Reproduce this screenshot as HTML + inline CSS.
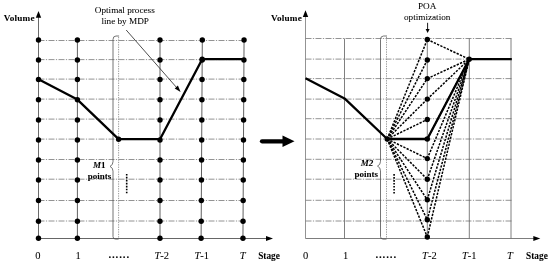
<!DOCTYPE html><html><head><meta charset="utf-8"><style>html,body{margin:0;padding:0;background:#fff}svg{display:block}text{font-family:"Liberation Serif",serif;fill:#000;stroke:#000;stroke-width:0.05px}</style></head><body>
<svg width="550" height="265" viewBox="0 0 550 265">
<rect width="550" height="265" fill="#fff"/>
<line x1="38.5" y1="40.5" x2="243.5" y2="40.5" stroke="#777" stroke-width="0.8" stroke-dasharray="6 1.4 1.2 1.4"/>
<line x1="38.5" y1="59.6" x2="243.5" y2="59.6" stroke="#777" stroke-width="0.8" stroke-dasharray="6 1.4 1.2 1.4"/>
<line x1="38.5" y1="79.1" x2="243.5" y2="79.1" stroke="#777" stroke-width="0.8" stroke-dasharray="6 1.4 1.2 1.4"/>
<line x1="38.5" y1="99.1" x2="243.5" y2="99.1" stroke="#777" stroke-width="0.8" stroke-dasharray="6 1.4 1.2 1.4"/>
<line x1="38.5" y1="119.1" x2="243.5" y2="119.1" stroke="#777" stroke-width="0.8" stroke-dasharray="6 1.4 1.2 1.4"/>
<line x1="38.5" y1="139.1" x2="243.5" y2="139.1" stroke="#777" stroke-width="0.8" stroke-dasharray="6 1.4 1.2 1.4"/>
<line x1="38.5" y1="159.5" x2="243.5" y2="159.5" stroke="#777" stroke-width="0.8" stroke-dasharray="6 1.4 1.2 1.4"/>
<line x1="38.5" y1="179.2" x2="243.5" y2="179.2" stroke="#777" stroke-width="0.8" stroke-dasharray="6 1.4 1.2 1.4"/>
<line x1="38.5" y1="200.5" x2="243.5" y2="200.5" stroke="#777" stroke-width="0.8" stroke-dasharray="6 1.4 1.2 1.4"/>
<line x1="38.5" y1="221" x2="243.5" y2="221" stroke="#777" stroke-width="0.8" stroke-dasharray="6 1.4 1.2 1.4"/>
<line x1="77.4" y1="40.5" x2="77.4" y2="238.5" stroke="#606060" stroke-width="1"/>
<line x1="160" y1="40.5" x2="160" y2="238.5" stroke="#606060" stroke-width="1"/>
<line x1="202.29999999999998" y1="40.5" x2="201.1" y2="238.5" stroke="#606060" stroke-width="1"/>
<line x1="244.05" y1="40.5" x2="242.95" y2="238.5" stroke="#606060" stroke-width="1"/>
<line x1="38.5" y1="16" x2="38.5" y2="238.5" stroke="#6a6a6a" stroke-width="1"/>
<polygon points="38.5,10.9 35.8,17.8 41.2,17.8" fill="#000"/>
<line x1="38.5" y1="238.5" x2="268" y2="238.5" stroke="#666" stroke-width="1"/>
<polygon points="273,238.5 266,236.0 266,241.0" fill="#000"/>
<path d="M119.1,36 H116 Q113,36 113,39.5 V161.70000000000002 q0,3.4 -3,4.7 q3,1.3 3,4.7 V236.5 Q113,239.1 115.5,239.1 H118.6" fill="none" stroke="#505050" stroke-width="0.8"/>
<line x1="118.6" y1="37" x2="118.6" y2="238.5" stroke="#808080" stroke-width="0.8" stroke-dasharray="1.3 1.1"/>
<circle cx="38.50" cy="40" r="2.7" fill="#000"/>
<circle cx="38.50" cy="60" r="2.7" fill="#000"/>
<circle cx="38.50" cy="79.5" r="2.7" fill="#000"/>
<circle cx="38.50" cy="99.7" r="2.7" fill="#000"/>
<circle cx="38.50" cy="120" r="2.7" fill="#000"/>
<circle cx="38.50" cy="140" r="2.7" fill="#000"/>
<circle cx="38.50" cy="160" r="2.7" fill="#000"/>
<circle cx="38.50" cy="180" r="2.7" fill="#000"/>
<circle cx="38.50" cy="200.5" r="2.7" fill="#000"/>
<circle cx="38.50" cy="221.3" r="2.7" fill="#000"/>
<circle cx="38.50" cy="238.3" r="2.7" fill="#000"/>
<circle cx="77.40" cy="40" r="2.7" fill="#000"/>
<circle cx="77.40" cy="60" r="2.7" fill="#000"/>
<circle cx="77.40" cy="79.5" r="2.7" fill="#000"/>
<circle cx="77.40" cy="99.7" r="2.7" fill="#000"/>
<circle cx="77.40" cy="120" r="2.7" fill="#000"/>
<circle cx="77.40" cy="140" r="2.7" fill="#000"/>
<circle cx="77.40" cy="160" r="2.7" fill="#000"/>
<circle cx="77.40" cy="180" r="2.7" fill="#000"/>
<circle cx="77.40" cy="200.5" r="2.7" fill="#000"/>
<circle cx="77.40" cy="221.3" r="2.7" fill="#000"/>
<circle cx="77.40" cy="238.3" r="2.7" fill="#000"/>
<circle cx="160.00" cy="40" r="2.7" fill="#000"/>
<circle cx="160.00" cy="60" r="2.7" fill="#000"/>
<circle cx="160.00" cy="79.5" r="2.7" fill="#000"/>
<circle cx="160.00" cy="99.7" r="2.7" fill="#000"/>
<circle cx="160.00" cy="120" r="2.7" fill="#000"/>
<circle cx="160.00" cy="140" r="2.7" fill="#000"/>
<circle cx="160.00" cy="160" r="2.7" fill="#000"/>
<circle cx="160.00" cy="180" r="2.7" fill="#000"/>
<circle cx="160.00" cy="200.5" r="2.7" fill="#000"/>
<circle cx="160.00" cy="221.3" r="2.7" fill="#000"/>
<circle cx="160.00" cy="238.3" r="2.7" fill="#000"/>
<circle cx="202.30" cy="40" r="2.7" fill="#000"/>
<circle cx="202.18" cy="60" r="2.7" fill="#000"/>
<circle cx="202.06" cy="79.5" r="2.7" fill="#000"/>
<circle cx="201.94" cy="99.7" r="2.7" fill="#000"/>
<circle cx="201.82" cy="120" r="2.7" fill="#000"/>
<circle cx="201.70" cy="140" r="2.7" fill="#000"/>
<circle cx="201.57" cy="160" r="2.7" fill="#000"/>
<circle cx="201.45" cy="180" r="2.7" fill="#000"/>
<circle cx="201.33" cy="200.5" r="2.7" fill="#000"/>
<circle cx="201.20" cy="221.3" r="2.7" fill="#000"/>
<circle cx="201.10" cy="238.3" r="2.7" fill="#000"/>
<circle cx="244.05" cy="40" r="2.7" fill="#000"/>
<circle cx="243.94" cy="60" r="2.7" fill="#000"/>
<circle cx="243.83" cy="79.5" r="2.7" fill="#000"/>
<circle cx="243.72" cy="99.7" r="2.7" fill="#000"/>
<circle cx="243.61" cy="120" r="2.7" fill="#000"/>
<circle cx="243.50" cy="140" r="2.7" fill="#000"/>
<circle cx="243.39" cy="160" r="2.7" fill="#000"/>
<circle cx="243.27" cy="180" r="2.7" fill="#000"/>
<circle cx="243.16" cy="200.5" r="2.7" fill="#000"/>
<circle cx="243.05" cy="221.3" r="2.7" fill="#000"/>
<circle cx="242.95" cy="238.3" r="2.7" fill="#000"/>
<polyline points="38.5,79.3 77.4,99.6 118.6,139.2 160,139.2 202.2,59.2 244,59.2" fill="none" stroke="#000" stroke-width="2.3" stroke-linejoin="round"/>
<circle cx="118.6" cy="139.2" r="2.7"/><circle cx="202.2" cy="59.2" r="2.7"/>
<line x1="305.5" y1="38.5" x2="511.5" y2="38.5" stroke="#777" stroke-width="0.8" stroke-dasharray="6 1.4 1.2 1.4"/>
<line x1="305.5" y1="59.1" x2="511.5" y2="59.1" stroke="#777" stroke-width="0.8" stroke-dasharray="6 1.4 1.2 1.4"/>
<line x1="305.5" y1="78.6" x2="511.5" y2="78.6" stroke="#777" stroke-width="0.8" stroke-dasharray="6 1.4 1.2 1.4"/>
<line x1="305.5" y1="99.1" x2="511.5" y2="99.1" stroke="#777" stroke-width="0.8" stroke-dasharray="6 1.4 1.2 1.4"/>
<line x1="305.5" y1="118.7" x2="511.5" y2="118.7" stroke="#777" stroke-width="0.8" stroke-dasharray="6 1.4 1.2 1.4"/>
<line x1="305.5" y1="139" x2="511.5" y2="139" stroke="#777" stroke-width="0.8" stroke-dasharray="6 1.4 1.2 1.4"/>
<line x1="305.5" y1="159.3" x2="511.5" y2="159.3" stroke="#777" stroke-width="0.8" stroke-dasharray="6 1.4 1.2 1.4"/>
<line x1="305.5" y1="179.2" x2="511.5" y2="179.2" stroke="#777" stroke-width="0.8" stroke-dasharray="6 1.4 1.2 1.4"/>
<line x1="305.5" y1="200.3" x2="511.5" y2="200.3" stroke="#777" stroke-width="0.8" stroke-dasharray="6 1.4 1.2 1.4"/>
<line x1="305.5" y1="221" x2="511.5" y2="221" stroke="#777" stroke-width="0.8" stroke-dasharray="6 1.4 1.2 1.4"/>
<line x1="344.5" y1="38.5" x2="344.5" y2="238.5" stroke="#606060" stroke-width="0.8"/>
<line x1="427.3" y1="38.5" x2="427.3" y2="238.5" stroke="#606060" stroke-width="0.8"/>
<line x1="469.3" y1="38.5" x2="469.3" y2="238.5" stroke="#606060" stroke-width="0.8"/>
<line x1="511" y1="38.5" x2="511" y2="238.5" stroke="#606060" stroke-width="0.8"/>
<line x1="305.5" y1="16" x2="305.5" y2="238.5" stroke="#777" stroke-width="0.8"/>
<polygon points="305.5,10.200000000000001 302.8,17.1 308.2,17.1" fill="#000"/>
<line x1="305.5" y1="238.5" x2="535.3" y2="238.5" stroke="#666" stroke-width="0.85"/>
<polygon points="540.3,238.5 533.3,236.0 533.3,241.0" fill="#000"/>
<path d="M387.0,36 H383.5 Q380.5,36 380.5,39.5 V161.4 q0,3.4 -3,4.7 q3,1.3 3,4.7 V236.5 Q380.5,239.1 383.0,239.1 H386.5" fill="none" stroke="#505050" stroke-width="0.8"/>
<line x1="386.5" y1="37" x2="386.5" y2="238.5" stroke="#808080" stroke-width="0.8" stroke-dasharray="1.3 1.1"/>
<line x1="387.2" y1="139" x2="427.3" y2="39.5" stroke="#000" stroke-width="1.5" stroke-dasharray="2.3 1.3"/>
<line x1="427.3" y1="39.5" x2="469.2" y2="59.2" stroke="#000" stroke-width="1.5" stroke-dasharray="2.3 1.3"/>
<line x1="387.2" y1="139" x2="427.3" y2="60" stroke="#000" stroke-width="1.5" stroke-dasharray="2.3 1.3"/>
<line x1="387.2" y1="139" x2="427.3" y2="78.6" stroke="#000" stroke-width="1.5" stroke-dasharray="2.3 1.3"/>
<line x1="427.3" y1="78.6" x2="469.2" y2="59.2" stroke="#000" stroke-width="1.5" stroke-dasharray="2.3 1.3"/>
<line x1="387.2" y1="139" x2="427.3" y2="99.1" stroke="#000" stroke-width="1.5" stroke-dasharray="2.3 1.3"/>
<line x1="427.3" y1="99.1" x2="469.2" y2="59.2" stroke="#000" stroke-width="1.5" stroke-dasharray="2.3 1.3"/>
<line x1="387.2" y1="139" x2="427.3" y2="119.5" stroke="#000" stroke-width="1.5" stroke-dasharray="2.3 1.3"/>
<line x1="427.3" y1="139" x2="469.2" y2="59.2" stroke="#000" stroke-width="1.5" stroke-dasharray="2.3 1.3"/>
<line x1="387.2" y1="139" x2="427.3" y2="158.6" stroke="#000" stroke-width="1.5" stroke-dasharray="2.3 1.3"/>
<line x1="427.3" y1="158.6" x2="469.2" y2="59.2" stroke="#000" stroke-width="1.5" stroke-dasharray="2.3 1.3"/>
<line x1="387.2" y1="139" x2="427.3" y2="179.3" stroke="#000" stroke-width="1.5" stroke-dasharray="2.3 1.3"/>
<line x1="427.3" y1="179.3" x2="469.2" y2="59.2" stroke="#000" stroke-width="1.5" stroke-dasharray="2.3 1.3"/>
<line x1="387.2" y1="139" x2="427.3" y2="199.8" stroke="#000" stroke-width="1.5" stroke-dasharray="2.3 1.3"/>
<line x1="427.3" y1="199.8" x2="469.2" y2="59.2" stroke="#000" stroke-width="1.5" stroke-dasharray="2.3 1.3"/>
<line x1="387.2" y1="139" x2="427.3" y2="219.8" stroke="#000" stroke-width="1.5" stroke-dasharray="2.3 1.3"/>
<line x1="427.3" y1="219.8" x2="469.2" y2="59.2" stroke="#000" stroke-width="1.5" stroke-dasharray="2.3 1.3"/>
<line x1="387.2" y1="139" x2="427.3" y2="237" stroke="#000" stroke-width="1.5" stroke-dasharray="2.3 1.3"/>
<line x1="427.3" y1="237" x2="469.2" y2="59.2" stroke="#000" stroke-width="1.5" stroke-dasharray="2.3 1.3"/>
<circle cx="427.3" cy="39.5" r="2.7" fill="#000"/>
<circle cx="427.3" cy="60" r="2.7" fill="#000"/>
<circle cx="427.3" cy="78.6" r="2.7" fill="#000"/>
<circle cx="427.3" cy="99.1" r="2.7" fill="#000"/>
<circle cx="427.3" cy="119.5" r="2.7" fill="#000"/>
<circle cx="427.3" cy="139" r="2.7" fill="#000"/>
<circle cx="427.3" cy="158.6" r="2.7" fill="#000"/>
<circle cx="427.3" cy="179.3" r="2.7" fill="#000"/>
<circle cx="427.3" cy="199.8" r="2.7" fill="#000"/>
<circle cx="427.3" cy="219.8" r="2.7" fill="#000"/>
<circle cx="427.3" cy="237" r="2.7" fill="#000"/>
<polyline points="305.5,78.3 344.5,98.4 387.2,139 427.3,139 469.2,59.2 511.8,59.2" fill="none" stroke="#000" stroke-width="2.3" stroke-linejoin="round"/>
<circle cx="387.2" cy="139" r="2.7"/><circle cx="469.2" cy="59.2" r="2.7"/>
<line x1="262" y1="141.3" x2="284" y2="141.3" stroke="#000" stroke-width="4.3" stroke-linecap="round"/>
<polygon points="294.5,141.3 282.5,135.5 282.5,147.1" fill="#000"/>
<line x1="126.2" y1="30" x2="178.6" y2="89.8" stroke="#222" stroke-width="0.8"/>
<polygon points="180.6,92 174.7,88.4 177.9,85.6" fill="#000"/>
<line x1="427.6" y1="22.8" x2="427.6" y2="30" stroke="#000" stroke-width="0.9"/>
<polygon points="427.6,33 425.6,29 429.6,29" fill="#000"/>
<line x1="126.7" y1="173.9" x2="126.7" y2="194" stroke="#000" stroke-width="1.6" stroke-dasharray="1.6 1.37"/>
<line x1="394.1" y1="174.1" x2="394.1" y2="194" stroke="#000" stroke-width="1.6" stroke-dasharray="1.6 1.37"/>
<text x="3.8" y="21.4" font-size="9.2" text-anchor="start" font-weight="bold" letter-spacing="0.18">Volume</text>
<text x="271.1" y="20.6" font-size="9.2" text-anchor="start" font-weight="bold" letter-spacing="0.18">Volume</text>
<text x="124.8" y="12.8" font-size="9.2" text-anchor="middle" >Optimal process</text>
<text x="125.2" y="24" font-size="9.2" text-anchor="middle" >line by MDP</text>
<text x="427.2" y="9" font-size="9.2" text-anchor="middle" >POA</text>
<text x="427.2" y="20" font-size="9.2" text-anchor="middle" >optimization</text>
<text x="99.3" y="168" font-size="9" text-anchor="middle" font-weight="bold"><tspan font-style="italic">M</tspan>1</text>
<text x="99.5" y="178.5" font-size="9" text-anchor="middle" font-weight="bold">points</text>
<text x="367" y="166.4" font-size="9" text-anchor="middle" font-weight="bold" font-style="italic">M2</text>
<text x="366.3" y="177" font-size="9" text-anchor="middle" font-weight="bold">points</text>
<text x="37.9" y="258.6" font-size="10.5" text-anchor="middle" >0</text>
<text x="78" y="258.6" font-size="10.5" text-anchor="middle" >1</text>
<text x="161.8" y="258.6" font-size="10.5" text-anchor="middle" ><tspan font-style="italic">T</tspan>-2</text>
<text x="201.7" y="258.6" font-size="10.5" text-anchor="middle" ><tspan font-style="italic">T</tspan>-1</text>
<text x="242.6" y="258.6" font-size="10.5" text-anchor="middle" font-style="italic">T</text>
<text x="258.2" y="258.7" font-size="9.3" text-anchor="start" font-weight="bold">Stage</text>
<text x="305.5" y="258.6" font-size="10.5" text-anchor="middle" >0</text>
<text x="345.5" y="258.6" font-size="10.5" text-anchor="middle" >1</text>
<text x="429.4" y="258.6" font-size="10.5" text-anchor="middle" ><tspan font-style="italic">T</tspan>-2</text>
<text x="469.3" y="258.6" font-size="10.5" text-anchor="middle" ><tspan font-style="italic">T</tspan>-1</text>
<text x="509.8" y="258.6" font-size="10.5" text-anchor="middle" font-style="italic">T</text>
<text x="526.1" y="258.7" font-size="9.3" text-anchor="start" font-weight="bold">Stage</text>
<text x="108.4" y="257.7" font-size="11" text-anchor="start" letter-spacing="0.85" font-weight="bold">......</text>
<text x="375.4" y="257.7" font-size="11" text-anchor="start" letter-spacing="0.85" font-weight="bold">......</text>
</svg></body></html>
